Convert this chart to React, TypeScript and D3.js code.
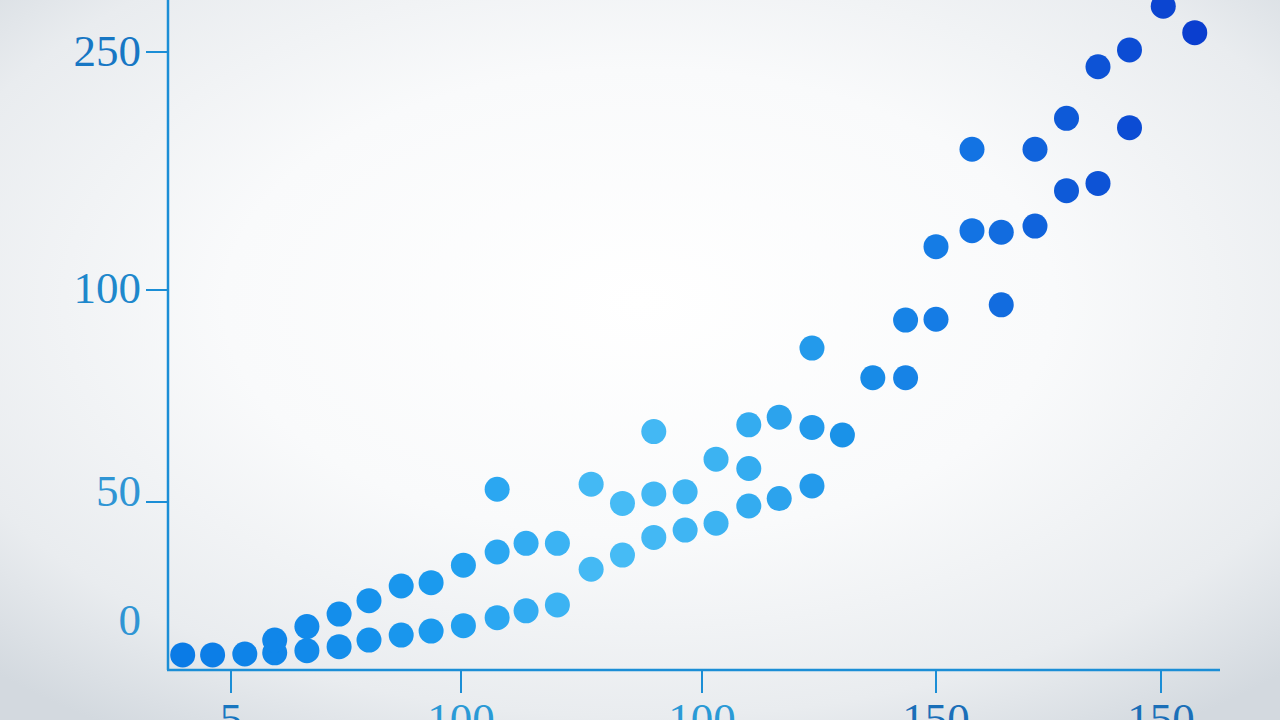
import React, { useEffect, useRef } from "react";
import * as d3 from "d3";

// x values are expressed in tick-slot units (0..4 = the five tick marks)
const xTickSlots = [0, 1, 2, 3, 4];
const xTickLabels = ["5", "100", "100", "150", "150"];

const yTickValues = [0, 50, 100, 250];
const yTickLabels = ["0", "50", "100", "250"];
const yTickHasMark = [false, true, true, true];
const yLabelShift = [0, -11, -2, -1];

const pointX = [
  -0.21, -0.08, 0.06,
  0.19, 0.19,
  0.33, 0.33,
  0.47, 0.47,
  0.6, 0.6,
  0.74, 0.74,
  0.87, 0.87,
  1.01, 1.01,
  1.15, 1.15, 1.15,
  1.27, 1.27,
  1.4, 1.4,
  1.54, 1.54,
  1.67, 1.67,
  1.8, 1.8, 1.8,
  1.93, 1.93,
  2.06, 2.06,
  2.2, 2.2, 2.2,
  2.33, 2.33,
  2.47, 2.47, 2.47,
  2.6,
  2.73,
  2.87, 2.87,
  3.0, 3.0,
  3.16, 3.16,
  3.29, 3.29,
  3.44, 3.44,
  3.58, 3.58,
  3.72, 3.72,
  3.86, 3.86,
  4.01,
  4.15,
];

const pointY = [
  -14.8, -14.8, -14.4,
  -13.9, -8.5,
  -13.0, -2.8,
  -11.3, 2.5,
  -8.5, 8.2,
  -6.4, 14.4,
  -4.7, 15.8,
  -2.4, 23.2,
  1.0, 28.8, 53.0,
  3.9, 32.5,
  6.4, 32.5,
  21.5, 54.2,
  27.5, 49.4,
  35.0, 51.9, 66.6,
  38.1, 52.4,
  41.0, 60.1,
  48.3, 57.9, 68.2,
  50.8, 70.0,
  53.8, 67.6, 86.3,
  65.8,
  79.3,
  79.3, 92.9,
  93.1, 127.3,
  137.4, 188.7,
  96.5, 136.4,
  140.3, 188.7,
  162.6, 208.2,
  167.2, 240.7,
  202.3, 251.3,
  278.9,
  262.2,
];

const colorStops = [-0.2, 0.9, 1.6, 2.1, 2.6, 3.1, 3.6, 4.15];
const colorValues = ["#0a7be6", "#1b9bee", "#48bcf5", "#3bb2f2", "#1a92e8", "#1477e4", "#0e59d8", "#0a3ecf"];

const W = 1280;
const H = 720;

export default function App() {
  const ref = useRef<SVGSVGElement | null>(null);

  useEffect(() => {
    document.body.style.margin = "0";
    const svg = d3.select(ref.current);
    svg.selectAll("*").remove();

    const axisX0 = 168;
    const axisX1 = 1220;
    const axisY = 670;

    const x = d3.scaleLinear().domain(xTickSlots).range([231, 461, 702, 936, 1161]);
    const y = d3.scaleLinear().domain(yTickValues).range([620, 502, 290, 52]);
    const color = d3.scaleLinear<string>().domain(colorStops).range(colorValues).interpolate(d3.interpolateRgb).clamp(true);

    const defs = svg.append("defs");
    const bg = defs
      .append("radialGradient")
      .attr("id", "bg")
      .attr("cx", "50%")
      .attr("cy", "42%")
      .attr("r", "72%");
    bg.append("stop").attr("offset", "0%").attr("stop-color", "#ffffff");
    bg.append("stop").attr("offset", "45%").attr("stop-color", "#f9fafb");
    bg.append("stop").attr("offset", "80%").attr("stop-color", "#e9ecef");
    bg.append("stop").attr("offset", "100%").attr("stop-color", "#d3d9df");

    svg.append("rect").attr("width", W).attr("height", H).attr("fill", "url(#bg)");

    const axisColor = "#1b8ed6";
    const labelFont = "'Liberation Serif', 'DejaVu Serif', serif";

    // y axis
    const yAxis = svg.append("g");
    yAxis
      .append("line")
      .attr("x1", axisX0)
      .attr("x2", axisX0)
      .attr("y1", 0)
      .attr("y2", axisY)
      .attr("stroke", axisColor)
      .attr("stroke-width", 2.5);
    yTickValues.forEach((v, i) => {
      if (yTickHasMark[i]) {
        yAxis
          .append("line")
          .attr("x1", axisX0 - 22)
          .attr("x2", axisX0)
          .attr("y1", y(v))
          .attr("y2", y(v))
          .attr("stroke", axisColor)
          .attr("stroke-width", 2);
      }
      yAxis
        .append("text")
        .attr("x", axisX0 - 27)
        .attr("y", y(v) + yLabelShift[i])
        .attr("dy", "0.33em")
        .attr("text-anchor", "end")
        .attr("font-family", labelFont)
        .attr("font-size", 45)
        .attr("fill", i === 3 ? "#1777c4" : i === 2 ? "#1e88cc" : "#2f95d4")
        .text(yTickLabels[i]);
    });

    // x axis
    const xAxis = svg.append("g");
    xAxis
      .append("line")
      .attr("x1", axisX0 - 1)
      .attr("x2", axisX1)
      .attr("y1", axisY)
      .attr("y2", axisY)
      .attr("stroke", axisColor)
      .attr("stroke-width", 2.5);
    xTickSlots.forEach((v, i) => {
      xAxis
        .append("line")
        .attr("x1", x(v))
        .attr("x2", x(v))
        .attr("y1", axisY)
        .attr("y2", axisY + 23)
        .attr("stroke", axisColor)
        .attr("stroke-width", 2);
      xAxis
        .append("text")
        .attr("x", x(v))
        .attr("y", 734)
        .attr("text-anchor", "middle")
        .attr("font-family", labelFont)
        .attr("font-size", 45)
        .attr("fill", i === 0 ? "#1776c0" : i >= 3 ? "#1a6fb8" : "#2a9ad6")
        .text(xTickLabels[i]);
    });

    // points
    const pts = pointX.map((px, i) => ({ px, py: pointY[i] }));
    svg
      .append("g")
      .selectAll("circle")
      .data(pts)
      .join("circle")
      .attr("cx", (d) => x(d.px))
      .attr("cy", (d) => y(d.py))
      .attr("r", 12.5)
      .attr("fill", (d) => color(d.px));
  }, []);

  return (
    <div style={{ position: "absolute", left: 0, top: 0, width: W, height: H, overflow: "hidden" }}>
      <svg ref={ref} width={W} height={H} style={{ display: "block" }} />
    </div>
  );
}
